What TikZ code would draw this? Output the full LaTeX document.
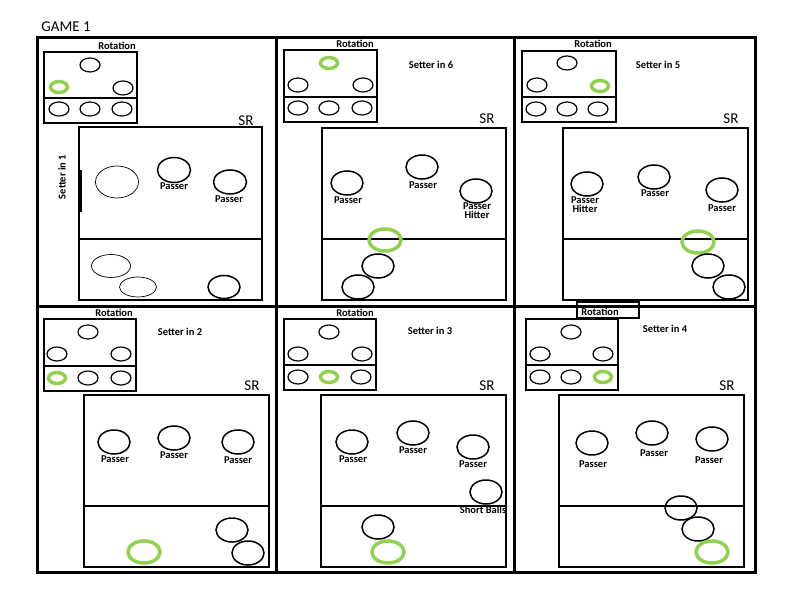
\documentclass[tikz,border=0pt]{standalone}
\usepackage{fontspec}
\setmainfont{Carlito}
\usepackage{tikz}
\usetikzlibrary{shapes.geometric}
\usetikzlibrary{positioning}
\definecolor{setgreen}{RGB}{146,208,80}
\tikzset{plr/.style = {draw, ellipse, inner sep = 0, minimum width = 32, minimum height = 24, line width = 1.5}}
\tikzset{thinplr/.style = {plr, line width = 0.7}}
\tikzset{setr/.style = {plr, draw = setgreen, line width = 3.5, minimum height = 22}}
\tikzset{rplr/.style = {draw, ellipse, inner sep = 0, minimum width = 20, minimum height = 14, line width = 1.2}}
\tikzset{rsetr/.style = {rplr, draw = setgreen, line width = 3.5, minimum width = 17, minimum height = 11}}
\tikzset{tag/.style = {inner sep = 0, align = center, font = \fontsize{10.5}{9}\selectfont\bfseries}}
\tikzset{big/.style = {inner sep = 0, font = \fontsize{15}{16}\selectfont}}
\tikzset{box/.style = {line width = 2.6}}
\tikzset{half/.style = {line width = 1.8}}

\begin{document}
\begin{tikzpicture}[x = 1pt, y = -1pt]
    \useasboundingbox [fill = white] (0, 0) rectangle (792, 612);
    \node [big] (title) at (66, 27) {GAME 1};
    \draw [line width = 3] (37, 38) rectangle (755, 572);
    \draw [line width = 3] (276, 38) -- (276, 572);
    \draw [line width = 3] (514, 38) -- (514, 572);
    \draw [line width = 3] (37, 306) -- (755, 306);

    % setter in 1
    \node [tag] (rot1) at (117, 46) {Rotation};
    \draw [box] (44, 52) rectangle (137, 123);
    \draw [box] (44, 98) -- (137, 98);
    \node [rplr] (r1a) at (90, 65) {};
    \node [rsetr] (r1b) at (59, 87) {};
    \node [rplr] (r1c) at (123, 88) {};
    \node [rplr] (r1d) at (59, 109) {};
    \node [rplr] (r1e) at (90, 109) {};
    \node [rplr] (r1f) at (122, 109) {};
    \node [big] (sr1) at (246, 121) {SR};
    \draw [box] (79, 127) rectangle (262, 300);
    \draw [half] (79, 239) -- (262, 239);
    \draw [line width = 3.5] (80, 170) -- (80, 212);
    \node [tag, rotate = 90] (set1) at (62, 177) {Setter in 1};
    \node [thinplr, minimum width = 43, minimum height = 32] (p1a) at (117, 182) {};
    \node [plr, minimum width = 33, minimum height = 25] (p1b) at (174, 170) {};
    \node [tag] (l1b) at (174, 186) {Passer};
    \node [plr, minimum width = 33] (p1c) at (230, 182) {};
    \node [tag] (l1c) at (229, 199) {Passer};
    \node [thinplr, minimum width = 39, minimum height = 23] (p1d) at (111, 266) {};
    \node [thinplr, minimum width = 37, minimum height = 20] (p1e) at (138, 287) {};
    \node [plr, minimum height = 23] (p1f) at (224, 287) {};

    % setter in 6
    \node [tag] (rot2) at (355, 44) {Rotation};
    \draw [box] (284, 50) rectangle (377, 122);
    \draw [box] (284, 97) -- (377, 97);
    \node [rsetr] (r2a) at (329, 63) {};
    \node [rplr] (r2b) at (298, 85) {};
    \node [rplr] (r2c) at (363, 85) {};
    \node [rplr] (r2d) at (298, 108) {};
    \node [rplr] (r2e) at (329, 108) {};
    \node [rplr] (r2f) at (362, 108) {};
    \node [tag] (set2) at (431, 65) {Setter in 6};
    \node [big] (sr2) at (487, 119) {SR};
    \draw [box] (322, 128) rectangle (506, 300);
    \draw [half] (322, 239) -- (506, 239);
    \node [plr] (p2a) at (347, 183) {};
    \node [tag] (l2a) at (348, 200) {Passer};
    \node [plr] (p2b) at (422, 167) {};
    \node [tag] (l2b) at (423, 185) {Passer};
    \node [plr] (p2c) at (476, 191) {};
    \node [tag] (l2c) at (477, 211) {Passer\\Hitter};
    \node [setr] (p2d) at (385, 240) {};
    \node [plr] (p2e) at (378, 266) {};
    \node [plr] (p2f) at (358, 287) {};

    % setter in 5
    \node [tag] (rot3) at (593, 44) {Rotation};
    \draw [box] (522, 51) rectangle (616, 122);
    \draw [box] (522, 97) -- (616, 97);
    \node [rplr] (r3a) at (567, 63) {};
    \node [rplr] (r3b) at (537, 85) {};
    \node [rsetr] (r3c) at (600, 86) {};
    \node [rplr] (r3d) at (536, 109) {};
    \node [rplr] (r3e) at (567, 109) {};
    \node [rplr] (r3f) at (598, 109) {};
    \node [tag] (set3) at (658, 65) {Setter in 5};
    \node [big] (sr3) at (731, 119) {SR};
    \draw [box] (563, 128) rectangle (748, 300);
    \draw [half] (563, 239) -- (748, 239);
    \node [plr] (p3a) at (587, 184) {};
    \node [tag] (l3a) at (585, 205) {Passer\\Hitter};
    \node [plr] (p3b) at (654, 177) {};
    \node [tag] (l3b) at (655, 193) {Passer};
    \node [plr] (p3c) at (722, 190) {};
    \node [tag] (l3c) at (722, 208) {Passer};
    \node [setr] (p3d) at (698, 242) {};
    \node [plr] (p3e) at (708, 266) {};
    \node [plr] (p3f) at (729, 287) {};

    % setter in 2
    \node [tag] (rot4) at (114, 313) {Rotation};
    \draw [box] (44, 319) rectangle (136, 391);
    \draw [box] (44, 366) -- (136, 366);
    \node [rplr] (r4a) at (88, 332) {};
    \node [rplr] (r4b) at (57, 354) {};
    \node [rplr] (r4c) at (121, 354) {};
    \node [rsetr] (r4d) at (57, 378) {};
    \node [rplr] (r4e) at (88, 378) {};
    \node [rplr] (r4f) at (121, 378) {};
    \node [tag] (set4) at (180, 332) {Setter in 2};
    \node [big] (sr4) at (252, 386) {SR};
    \draw [box] (84, 395) rectangle (269, 567);
    \draw [half] (84, 506) -- (269, 506);
    \node [plr] (p4a) at (114, 442) {};
    \node [tag] (l4a) at (115, 459) {Passer};
    \node [plr] (p4b) at (174, 438) {};
    \node [tag] (l4b) at (174, 455) {Passer};
    \node [plr] (p4c) at (238, 442) {};
    \node [tag] (l4c) at (238, 460) {Passer};
    \node [plr] (p4d) at (232, 530) {};
    \node [plr] (p4e) at (248, 553) {};
    \node [setr] (p4f) at (144, 552) {};

    % setter in 3
    \node [tag] (rot5) at (355, 313) {Rotation};
    \draw [box] (284, 319) rectangle (376, 390);
    \draw [box] (284, 365) -- (376, 365);
    \node [rplr] (r5a) at (329, 332) {};
    \node [rplr] (r5b) at (298, 354) {};
    \node [rplr] (r5c) at (362, 354) {};
    \node [rplr] (r5d) at (298, 377) {};
    \node [rsetr] (r5e) at (329, 377) {};
    \node [rplr] (r5f) at (361, 377) {};
    \node [tag] (set5) at (430, 331) {Setter in 3};
    \node [big] (sr5) at (487, 386) {SR};
    \draw [box] (321, 395) rectangle (506, 567);
    \draw [half] (321, 506) -- (506, 506);
    \node [plr] (p5a) at (352, 442) {};
    \node [tag] (l5a) at (353, 459) {Passer};
    \node [plr] (p5b) at (413, 433) {};
    \node [tag] (l5b) at (413, 450) {Passer};
    \node [plr] (p5c) at (473, 447) {};
    \node [tag] (l5c) at (473, 464) {Passer};
    \node [plr] (p5d) at (486, 492) {};
    \node [tag] (l5d) at (483, 510) {Short Balls};
    \node [plr] (p5e) at (378, 527) {};
    \node [setr] (p5f) at (388, 552) {};

    % setter in 4
    \draw [line width = 1.5] (577, 302) rectangle (639, 318);
    \node [tag] (rot6) at (600, 312) {Rotation};
    \draw [box] (526, 319) rectangle (618, 390);
    \draw [box] (526, 365) -- (618, 365);
    \node [rplr] (r6a) at (571, 332) {};
    \node [rplr] (r6b) at (540, 354) {};
    \node [rplr] (r6c) at (603, 354) {};
    \node [rplr] (r6d) at (540, 377) {};
    \node [rplr] (r6e) at (571, 377) {};
    \node [rsetr] (r6f) at (603, 377) {};
    \node [tag] (set6) at (665, 329) {Setter in 4};
    \node [big] (sr6) at (727, 386) {SR};
    \draw [box] (559, 395) rectangle (744, 567);
    \draw [half] (559, 506) -- (744, 506);
    \node [plr] (p6a) at (592, 443) {};
    \node [tag] (l6a) at (593, 464) {Passer};
    \node [plr] (p6b) at (652, 433) {};
    \node [tag] (l6b) at (654, 453) {Passer};
    \node [plr] (p6c) at (712, 439) {};
    \node [tag] (l6c) at (709, 460) {Passer};
    \node [plr] (p6d) at (681, 508) {};
    \node [plr] (p6e) at (698, 529) {};
    \node [setr] (p6f) at (712, 552) {};
\end{tikzpicture}
\end{document}
